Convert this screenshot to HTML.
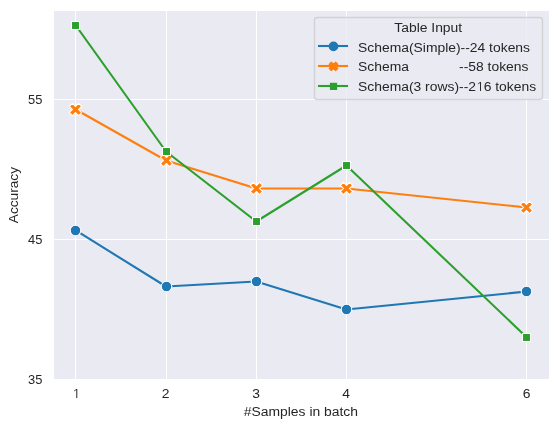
<!DOCTYPE html>
<html><head><meta charset="utf-8"><title>Accuracy vs #Samples in batch</title>
<style>html,body{margin:0;padding:0;background:#fff}svg{display:block}</style></head>
<body>
<svg width="558" height="429" viewBox="0 0 558 429">
<rect x="0" y="0" width="558" height="429" fill="#fff"/>
<rect x="54" y="11" width="495" height="368" fill="#eaeaf2"/>
<g fill="#fff" shape-rendering="crispEdges">
<rect x="75.0" y="11" width="1" height="368"/>
<rect x="166.0" y="11" width="1" height="368"/>
<rect x="256.0" y="11" width="1" height="368"/>
<rect x="346.0" y="11" width="1" height="368"/>
<rect x="526.0" y="11" width="1" height="368"/>
<rect x="54" y="99" width="495" height="1"/>
<rect x="54" y="239" width="495" height="1"/>
</g>
<polyline points="75.85,230.5 166.05,286.5 256.25,281.5 346.45,309.5 526.85,291.5" fill="none" stroke="#1f77b4" stroke-width="2.08" stroke-linejoin="round" stroke-linecap="square"/>
<circle cx="75.5" cy="230.5" r="5.30" fill="#1f77b4" stroke="#fff" stroke-width="1.04"/>
<circle cx="166.5" cy="286.5" r="5.30" fill="#1f77b4" stroke="#fff" stroke-width="1.04"/>
<circle cx="256.5" cy="281.5" r="5.30" fill="#1f77b4" stroke="#fff" stroke-width="1.04"/>
<circle cx="346.5" cy="309.5" r="5.30" fill="#1f77b4" stroke="#fff" stroke-width="1.04"/>
<circle cx="526.5" cy="291.5" r="5.30" fill="#1f77b4" stroke="#fff" stroke-width="1.04"/>
<polyline points="75.85,109.5 166.05,160.5 256.25,188.5 346.45,188.5 526.85,207.5" fill="none" stroke="#ff7f0e" stroke-width="2.08" stroke-linejoin="round" stroke-linecap="square"/>
<polygon points="72.42,103.35 75.50,106.42 78.58,103.35 81.65,106.42 78.58,109.50 81.65,112.58 78.58,115.65 75.50,112.58 72.42,115.65 69.35,112.58 72.42,109.50 69.35,106.42" fill="#ff7f0e" stroke="#fff" stroke-width="1.04" stroke-linejoin="miter"/>
<polygon points="163.43,154.35 166.50,157.43 169.57,154.35 172.65,157.43 169.57,160.50 172.65,163.57 169.57,166.65 166.50,163.57 163.43,166.65 160.35,163.57 163.43,160.50 160.35,157.43" fill="#ff7f0e" stroke="#fff" stroke-width="1.04" stroke-linejoin="miter"/>
<polygon points="253.43,182.35 256.50,185.43 259.57,182.35 262.65,185.43 259.57,188.50 262.65,191.57 259.57,194.65 256.50,191.57 253.43,194.65 250.35,191.57 253.43,188.50 250.35,185.43" fill="#ff7f0e" stroke="#fff" stroke-width="1.04" stroke-linejoin="miter"/>
<polygon points="343.43,182.35 346.50,185.43 349.57,182.35 352.65,185.43 349.57,188.50 352.65,191.57 349.57,194.65 346.50,191.57 343.43,194.65 340.35,191.57 343.43,188.50 340.35,185.43" fill="#ff7f0e" stroke="#fff" stroke-width="1.04" stroke-linejoin="miter"/>
<polygon points="523.42,201.35 526.50,204.43 529.58,201.35 532.65,204.43 529.58,207.50 532.65,210.57 529.58,213.65 526.50,210.57 523.42,213.65 520.35,210.57 523.42,207.50 520.35,204.43" fill="#ff7f0e" stroke="#fff" stroke-width="1.04" stroke-linejoin="miter"/>
<polyline points="75.85,25.5 166.05,151.5 256.25,221.5 346.45,165.5 526.85,337.5" fill="none" stroke="#2ca02c" stroke-width="2.08" stroke-linejoin="round" stroke-linecap="square"/>
<rect x="71.50" y="21.50" width="8.0" height="8.0" fill="#2ca02c" stroke="#fff" stroke-width="1.04"/>
<rect x="162.50" y="147.50" width="8.0" height="8.0" fill="#2ca02c" stroke="#fff" stroke-width="1.04"/>
<rect x="252.50" y="217.50" width="8.0" height="8.0" fill="#2ca02c" stroke="#fff" stroke-width="1.04"/>
<rect x="342.50" y="161.50" width="8.0" height="8.0" fill="#2ca02c" stroke="#fff" stroke-width="1.04"/>
<rect x="522.50" y="333.50" width="8.0" height="8.0" fill="#2ca02c" stroke="#fff" stroke-width="1.04"/>
<g font-family="'Liberation Sans', sans-serif" font-size="13.89px" fill="#262626" style="white-space:pre">
<text transform="translate(76.25,398.3) scale(1,0.93)" text-anchor="middle" font-family="NanumGothic, 'Liberation Sans', sans-serif" font-size="14.3px">1</text>
<text transform="translate(165.70,398.30) scale(1,0.9)" text-anchor="middle" xml:space="preserve">2</text>
<text transform="translate(256.00,398.30) scale(1,0.9)" text-anchor="middle" xml:space="preserve">3</text>
<text transform="translate(346.20,398.30) scale(1,0.9)" text-anchor="middle" xml:space="preserve">4</text>
<text transform="translate(526.70,398.30) scale(1,0.9)" text-anchor="middle" xml:space="preserve">6</text>
<text transform="translate(42.40,104.20) scale(0.93,0.9)" text-anchor="end" xml:space="preserve">55</text>
<text transform="translate(42.40,244.20) scale(0.93,0.9)" text-anchor="end" xml:space="preserve">45</text>
<text transform="translate(42.40,384.20) scale(0.93,0.9)" text-anchor="end" xml:space="preserve">35</text>
<text transform="translate(300.90,416.20) scale(1,0.9)" text-anchor="middle" xml:space="preserve">#Samples in batch</text>
<text transform="translate(18,195.1) rotate(-90) scale(0.985,0.9)" text-anchor="middle">Accuracy</text>
<rect x="314.5" y="17.5" width="228" height="82" rx="2.8" ry="2.8" fill="#eaeaf2" fill-opacity="0.8" stroke="#cccccc" stroke-opacity="0.8" stroke-width="1.39"/>
<text transform="translate(428.20,32.20) scale(1,0.9)" text-anchor="middle" xml:space="preserve">Table Input</text>
<line x1="319" y1="46" x2="347" y2="46" stroke="#1f77b4" stroke-width="2.08" stroke-linecap="square"/>
<circle cx="333.5" cy="46.4" r="4.20" fill="#1f77b4" stroke="#1f77b4" stroke-width="1.35"/>
<text transform="translate(358.00,51.90) scale(1,0.9)" text-anchor="start" xml:space="preserve">Schema(Simple)--24 tokens</text>
<line x1="319" y1="66" x2="347" y2="66" stroke="#ff7f0e" stroke-width="2.08" stroke-linecap="square"/>
<polygon points="331.38,62.15 333.50,64.28 335.62,62.15 337.75,64.28 335.62,66.40 337.75,68.53 335.62,70.65 333.50,68.53 331.38,70.65 329.25,68.53 331.38,66.40 329.25,64.28" fill="#ff7f0e" stroke="#ff7f0e" stroke-width="1.15" stroke-linejoin="round"/>
<text transform="translate(358.00,71.10) scale(1,0.9)" text-anchor="start" xml:space="preserve">Schema             --58 tokens</text>
<line x1="319" y1="86" x2="347" y2="86" stroke="#2ca02c" stroke-width="2.08" stroke-linecap="square"/>
<rect x="330.55" y="83.45" width="5.9" height="5.9" fill="#2ca02c" stroke="#2ca02c" stroke-width="1.3"/>
<text transform="translate(358,91.10) scale(1,0.9)" xml:space="preserve">Schema(3 rows)--2<tspan x="117.87" font-family="NanumGothic, 'Liberation Sans', sans-serif" font-size="14.3px">1</tspan><tspan x="125.68">6 tokens</tspan></text>
</g>
</svg>
</body></html>
